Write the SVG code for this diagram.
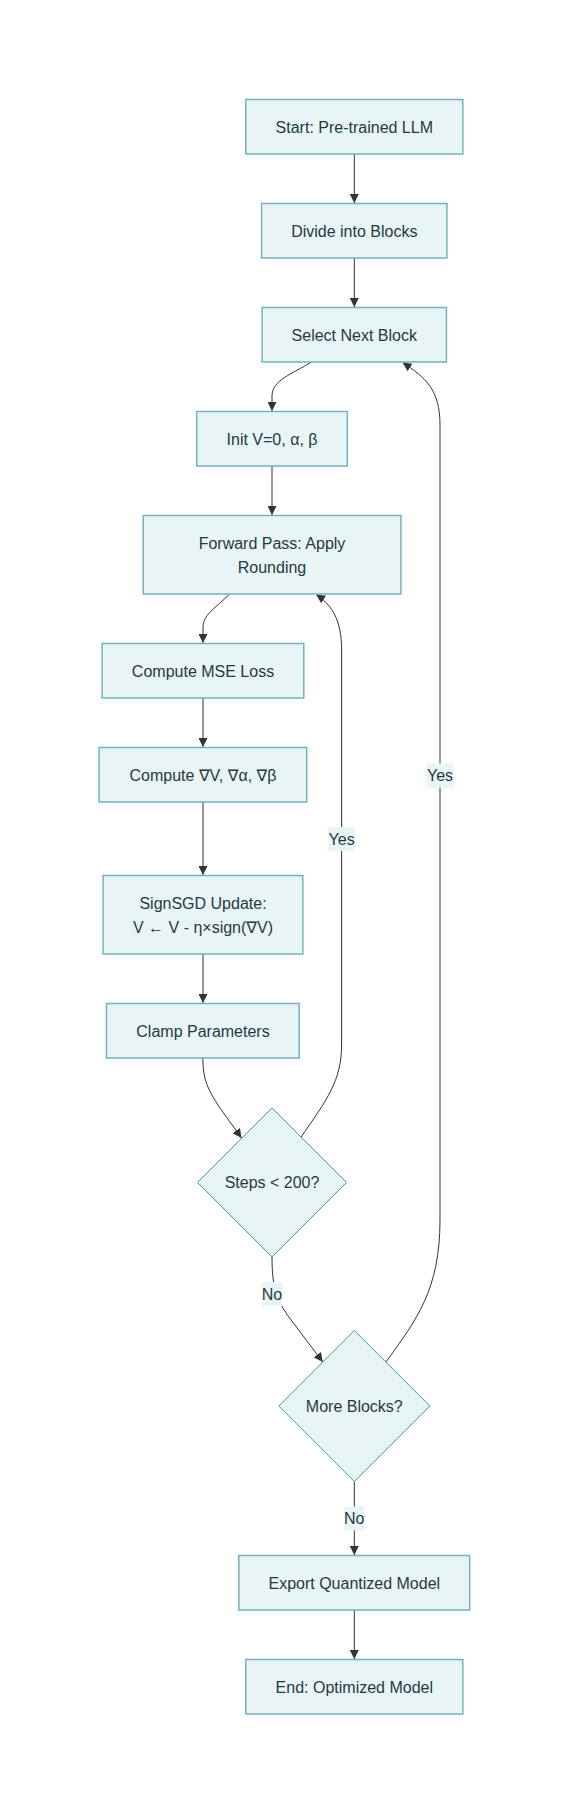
<svg xmlns="http://www.w3.org/2000/svg" width="572" height="1814" viewBox="0 0 572 1814">
<style>
.node rect{fill:#e8f4f6;stroke:#72b3bc;stroke-width:1.5}
.node polygon{fill:#e8f4f6;stroke:#3d9aa5;stroke-width:1}
.node text,.lbl text{font-family:"Liberation Sans",Arial,"DejaVu Sans",sans-serif;font-size:16px;fill:#1f3a40;text-anchor:middle}
.edges path{fill:none;stroke:#333;stroke-width:1}
.lbl rect{fill:#e8f4f6}
</style>
<defs>
<marker id="arr" viewBox="0 0 10 10" refX="10" refY="5" markerWidth="9" markerHeight="9" markerUnits="userSpaceOnUse" orient="auto">
<path d="M0,0 L10,5 L0,10 z" fill="#333"/>
</marker>
</defs>
<rect width="572" height="1814" fill="#fff"/>
<g class="edges">
<path d="M354.3,154 L354.3,203" marker-end="url(#arr)"/>
<path d="M354.3,258 L354.3,307" marker-end="url(#arr)"/>
<path d="M311.5,362 C292.3,374 272,380 272,396 L272,411" marker-end="url(#arr)"/>
<path d="M272,466 L272,515" marker-end="url(#arr)"/>
<path d="M229.7,594 C213,610 203,615 203,628 L203,643" marker-end="url(#arr)"/>
<path d="M203,698 L203,747" marker-end="url(#arr)"/>
<path d="M203,802 L203,875" marker-end="url(#arr)"/>
<path d="M203,954 L203,1003" marker-end="url(#arr)"/>
<path d="M202.8,1058 C202.8,1080 208,1090 220,1108 L241.5,1138" marker-end="url(#arr)"/>
<path d="M301,1137 C327,1100 341.6,1080 341.6,1045 L341.6,650 C341.6,620 332,605 316.1,594.5" marker-end="url(#arr)"/>
<path d="M272,1257 C272,1290 277.5,1300 287.4,1315 L322.8,1362" marker-end="url(#arr)"/>
<path d="M386,1362 C416.2,1320 440,1290 440,1220 L440,425 C440,390 426.1,378 402.6,362.5" marker-end="url(#arr)"/>
<path d="M354.3,1481.5 L354.3,1555" marker-end="url(#arr)"/>
<path d="M354.3,1610 L354.3,1659" marker-end="url(#arr)"/>
</g>
<g class="lbl" id="lbl-yes1"><rect x="328.4" y="827" width="26.5" height="24"/><text x="341.6" y="844.5">Yes</text></g>
<g class="lbl" id="lbl-yes2"><rect x="426.8" y="763.5" width="26.5" height="24"/><text x="440" y="781">Yes</text></g>
<g class="lbl" id="lbl-no1"><rect x="262" y="1282" width="20" height="24"/><text x="272" y="1299.5">No</text></g>
<g class="lbl" id="lbl-no2"><rect x="344.3" y="1506.5" width="20" height="24"/><text x="354.3" y="1524">No</text></g>
<g class="node" id="start"><rect x="245.8" y="99.5" width="217" height="54.5"/><text x="354.3" y="132.5">Start: Pre-trained LLM</text></g>
<g class="node" id="divide"><rect x="261.6" y="203.5" width="185.3" height="54.5"/><text x="354.3" y="236.5">Divide into Blocks</text></g>
<g class="node" id="select"><rect x="262.1" y="307.5" width="184.3" height="54.5"/><text x="354.3" y="340.5">Select Next Block</text></g>
<g class="node" id="init"><rect x="196.7" y="411.5" width="150.6" height="54.5"/><text x="272" y="444.5">Init V=0, α, β</text></g>
<g class="node" id="forward"><rect x="143.2" y="515.5" width="257.7" height="78.5"/><text x="272" y="548.5">Forward Pass: Apply</text><text x="272" y="572.5">Rounding</text></g>
<g class="node" id="mse"><rect x="102.1" y="643.5" width="201.7" height="54.5"/><text x="203" y="676.5">Compute MSE Loss</text></g>
<g class="node" id="grad"><rect x="99.1" y="747.5" width="207.6" height="54.5"/><text x="203" y="780.5">Compute ∇V, ∇α, ∇β</text></g>
<g class="node" id="sign"><rect x="103.1" y="875.5" width="199.7" height="78.5"/><text x="203" y="908.5">SignSGD Update:</text><text x="203" y="932.5">V ← V - η×sign(∇V)</text></g>
<g class="node" id="clamp"><rect x="106.5" y="1003.5" width="192.7" height="54.5"/><text x="203" y="1036.5">Clamp Parameters</text></g>
<g class="node" id="steps"><polygon points="272,1108 346.5,1182.5 272,1257 197.5,1182.5"/><text x="272" y="1188">Steps &lt; 200?</text></g>
<g class="node" id="more"><polygon points="354.3,1330.5 429.8,1406 354.3,1481.5 278.8,1406"/><text x="354.3" y="1411.5">More Blocks?</text></g>
<g class="node" id="export"><rect x="238.8" y="1555.5" width="230.9" height="54.5"/><text x="354.3" y="1588.5">Export Quantized Model</text></g>
<g class="node" id="end"><rect x="245.8" y="1659.5" width="217" height="54.5"/><text x="354.3" y="1692.5">End: Optimized Model</text></g>
</svg>
